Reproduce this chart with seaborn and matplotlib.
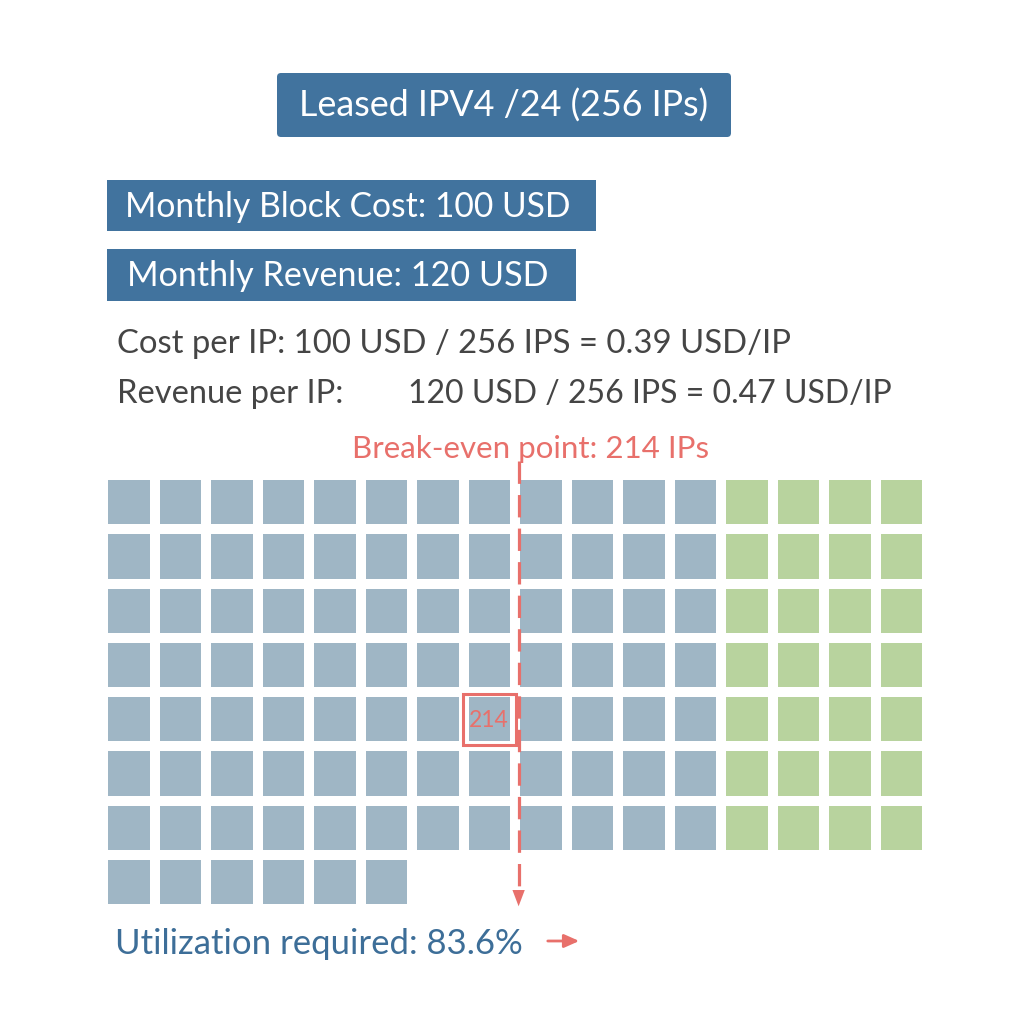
import numpy as np
import matplotlib
matplotlib.use("Agg")
import matplotlib.pyplot as plt
import seaborn as sns
from matplotlib.colors import ListedColormap
from matplotlib.patches import Rectangle, FancyBboxPatch, Polygon

# Datos del bloque /24
title_text = "Leased IPV4 /24 (256 IPs)"
cost_text = "Monthly Block Cost: 100 USD"
revenue_text = "Monthly Revenue: 120 USD"
cost_per_ip_text = "Cost per IP: 100 USD / 256 IPS = 0.39 USD/IP"
revenue_label = "Revenue per IP:"
revenue_calc = "120 USD / 256 IPS = 0.47 USD/IP"
break_even_text = "Break-even point: 214 IPs"
utilization_text = "Utilization required: 83.6%"

# Celdas por fila: azules (hasta el punto de equilibrio) y verdes (beneficio)
blue_per_row = [12, 12, 12, 12, 12, 12, 12, 6]
green_per_row = [4, 4, 4, 4, 4, 4, 4, 0]
n_cols = 16
marker_label = "214"
marker_row = 4
marker_col = 7

BLUE = "#9fb6c5"
GREEN = "#b8d39e"
HEADER = "#41739e"
RED = "#e8706b"
GRAY = "#454545"
TEXT_BLUE = "#3d6e98"

grid = np.full((len(blue_per_row), n_cols), np.nan)
for r, (b, g) in enumerate(zip(blue_per_row, green_per_row)):
    grid[r, :b] = 0
    grid[r, b:b + g] = 1

plt.rcParams['font.family'] = ['Lato', 'DejaVu Sans']
fig = plt.figure(figsize=(10.24, 10.24), dpi=100)
fig.patch.set_facecolor("white")

W = H = 1024.0

# Capa de anotaciones en coordenadas de píxel
over = fig.add_axes([0, 0, 1, 1])
over.set_xlim(0, W)
over.set_ylim(H, 0)
over.axis("off")

# Cuadrícula de IPs
ax = fig.add_axes([103 / W, (H - 909) / H, 824 / W, 434 / H])
sns.heatmap(grid, ax=ax, cmap=ListedColormap([BLUE, GREEN]), vmin=0, vmax=1,
            cbar=False, linewidths=6, linecolor="white",
            xticklabels=False, yticklabels=False, mask=np.isnan(grid))
ax.set_xlabel("")
ax.set_ylabel("")

# Cajas de encabezado
over.add_patch(FancyBboxPatch((277, 73), 454, 64, boxstyle="round,pad=0,rounding_size=4",
                              fc=HEADER, ec="none"))
over.text(504, 106, title_text, color="white", fontsize=25.8, ha="center", va="center")
over.add_patch(Rectangle((107, 180), 489, 51, fc=HEADER, ec="none"))
over.text(125, 207, cost_text, color="white", fontsize=24.2, ha="left", va="center")
over.add_patch(Rectangle((107, 249), 469, 52, fc=HEADER, ec="none"))
over.text(127, 276, revenue_text, color="white", fontsize=24.6, ha="left", va="center")

over.text(117, 344, cost_per_ip_text, color=GRAY, fontsize=23.7, ha="left", va="center")
over.text(117, 394, revenue_label, color=GRAY, fontsize=23.5, ha="left", va="center")
over.text(408, 394, revenue_calc, color=GRAY, fontsize=23, ha="left", va="center")
over.text(531, 449, break_even_text, color=RED, fontsize=22.5, ha="center", va="center")

# Línea de equilibrio
line_x = marker_col + 1.07
ax.plot([line_x, line_x], [-0.25, 7.65], color=RED, lw=2.3, ls=(0, (7, 3.5)),
        clip_on=False, zorder=5)
ax.add_patch(Polygon([[line_x - 0.12, 7.65], [line_x + 0.12, 7.65], [line_x, 7.95]],
                     closed=True, fc=RED, ec="none", clip_on=False, zorder=5))

# Celda marcada
ax.add_patch(Rectangle((marker_col - 0.01, marker_row + 0.03), 1.02, 0.95, fill=False,
                       ec=RED, lw=2.2, clip_on=False, zorder=6))
ax.text(marker_col + 0.5, marker_row + 0.52, marker_label, color=RED, fontsize=16.5,
        ha="center", va="center", zorder=7)

over.text(115, 944, utilization_text, color=TEXT_BLUE, fontsize=25, ha="left", va="center")
over.annotate("", xy=(582, 941), xytext=(545, 941),
              arrowprops=dict(arrowstyle="-|>,head_length=0.9,head_width=0.4",
                              color=RED, lw=2))

fig.savefig("out.png", dpi=100, facecolor="white")
